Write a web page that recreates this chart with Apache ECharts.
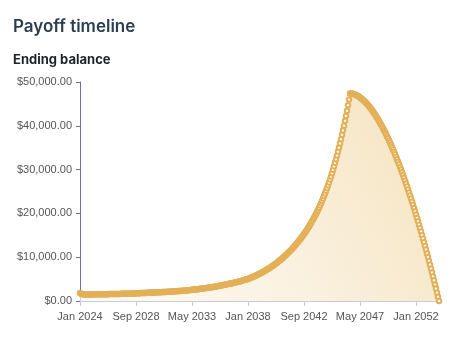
<!DOCTYPE html>
<html>
<head>
<meta charset="utf-8">
<title>Payoff timeline</title>
<script src="https://cdn.jsdelivr.net/npm/echarts@6/dist/echarts.min.js"></script>
<style>
  html, body { margin: 0; padding: 0; background: #fff; }
  #chart { width: 474px; height: 337px; }
</style>
</head>
<body>
<div id="chart"></div>
<script>
// Monthly schedule: Jan 2024 – Dec 2053
const monthNames = ['Jan','Feb','Mar','Apr','May','Jun','Jul','Aug','Sep','Oct','Nov','Dec'];
const startYear = 2024;
const endYear = 2053;

// Ending balance for each month, one row per year
const balance = [
  1800, 1640, 1560, 1520, 1500, 1495, 1495, 1495, 1500, 1500, 1505, 1505,          // 2024
  1510, 1510, 1515, 1515, 1520, 1520, 1525, 1530, 1530, 1535, 1540, 1540,          // 2025
  1545, 1550, 1555, 1560, 1565, 1570, 1575, 1580, 1585, 1590, 1595, 1600,          // 2026
  1605, 1610, 1615, 1620, 1625, 1630, 1635, 1640, 1645, 1650, 1660, 1665,          // 2027
  1670, 1680, 1690, 1700, 1710, 1720, 1730, 1740, 1750, 1760, 1770, 1780,          // 2028
  1790, 1800, 1810, 1820, 1830, 1840, 1850, 1860, 1870, 1885, 1900, 1915,          // 2029
  1930, 1940, 1950, 1960, 1970, 1980, 1990, 2000, 2010, 2020, 2030, 2040,          // 2030
  2050, 2065, 2080, 2095, 2110, 2125, 2140, 2155, 2170, 2185, 2200, 2215,          // 2031
  2230, 2245, 2260, 2275, 2290, 2305, 2320, 2340, 2360, 2380, 2400, 2420,          // 2032
  2450, 2475, 2500, 2525, 2550, 2575, 2600, 2625, 2650, 2680, 2710, 2740,          // 2033
  2770, 2800, 2830, 2860, 2890, 2920, 2950, 2985, 3020, 3055, 3090, 3125,          // 2034
  3160, 3200, 3240, 3280, 3320, 3360, 3400, 3445, 3490, 3535, 3580, 3630,          // 2035
  3675, 3720, 3770, 3820, 3870, 3920, 3970, 4020, 4075, 4130, 4185, 4240,          // 2036
  4300, 4355, 4410, 4470, 4530, 4590, 4650, 4715, 4780, 4845, 4910, 4980,          // 2037
  5050, 5140, 5230, 5320, 5420, 5520, 5620, 5720, 5830, 5940, 6050, 6160,          // 2038
  6280, 6400, 6520, 6640, 6770, 6900, 7030, 7170, 7310, 7450, 7600, 7750,          // 2039
  7910, 8070, 8240, 8410, 8580, 8760, 8940, 9120, 9310, 9500, 9700, 9900,          // 2040
  10100, 10310, 10520, 10740, 10960, 11190, 11420, 11660, 11900, 12150, 12400, 12660, // 2041
  12930, 13200, 13480, 13760, 14050, 14350, 14650, 14960, 15280, 15600, 15940, 16280, // 2042
  16640, 17010, 17390, 17780, 18180, 18590, 19010, 19440, 19880, 20330, 20800, 21280, // 2043
  21790, 22310, 22850, 23400, 23970, 24550, 25150, 25770, 26400, 27050, 27730, 28430, // 2044
  29180, 29950, 30740, 31550, 32380, 33240, 34120, 35030, 35970, 36940, 37940, 38970, // 2045
  40030, 41130, 42260, 43420, 44700, 46000, 47400, 47390, 47350, 47290, 47220, 47130, // 2046
  47030, 46910, 46780, 46630, 46470, 46300, 46110, 45910, 45700, 45480, 45240, 44990, // 2047
  44730, 44460, 44170, 43880, 43570, 43250, 42920, 42580, 42230, 41860, 41490, 41100, // 2048
  40710, 40300, 39880, 39450, 39010, 38570, 38110, 37640, 37150, 36660, 36160, 35650, // 2049
  35130, 34600, 34060, 33510, 32950, 32380, 31800, 31210, 30610, 30000, 29380, 28750, // 2050
  28120, 27470, 26810, 26140, 25470, 24790, 24090, 23380, 22670, 21950, 21220, 20480, // 2051
  19720, 18970, 18200, 17420, 16630, 15840, 15030, 14220, 13390, 12570, 11730, 10870, // 2052
  10020, 9150, 8280, 7390, 6500, 5600, 4680, 3760, 2840, 1900, 950, 0                 // 2053
];

// Month labels such as "Jan 2024"
const months = [];
for (let y = startYear; y <= endYear; y++) {
  for (const m of monthNames) months.push(m + ' ' + y);
}

// Value axis ticks
const yMin = 0;
const yMax = 50000;
const yStep = 10000;

function money(v) {
  return '$' + v.toFixed(2).replace(/\B(?=(\d{3})+(?!\d))/g, ',');
}

const gold = '#e3b058';
const labelFont = '"Liberation Sans", Arial, Helvetica, sans-serif';

const chart = echarts.init(document.getElementById('chart'), null, { renderer: 'canvas' });
chart.setOption({
  animation: false,
  backgroundColor: '#fff',
  title: [
    {
      text: 'Payoff timeline',
      left: 13,
      top: 18,
      padding: 0,
      textStyle: { fontFamily: 'Inter, "Noto Sans", sans-serif', fontSize: 17, fontWeight: 600, color: '#2c3e50' }
    },
    {
      text: 'Ending balance',
      left: 13,
      top: 54,
      padding: 0,
      textStyle: { fontFamily: 'Inter, "Noto Sans", sans-serif', fontSize: 13, fontWeight: 700, color: '#1f2328' }
    }
  ],
  grid: { left: 80, right: 35, top: 82, bottom: 36, containLabel: false },
  xAxis: {
    type: 'category',
    data: months,
    boundaryGap: false,
    axisLine: { show: true, lineStyle: { color: '#c9cbdc', width: 1 } },
    axisTick: { show: true, interval: 55, length: 5, lineStyle: { color: '#c9cbdc' } },
    axisLabel: { interval: 55, color: '#555', fontSize: 11, fontFamily: labelFont, margin: 10 },
    splitLine: { show: false }
  },
  yAxis: {
    type: 'value',
    min: yMin,
    max: yMax,
    interval: yStep,
    axisLine: { show: true, lineStyle: { color: '#6f71a0', width: 1 } },
    axisTick: { show: true, length: 4, lineStyle: { color: '#6f71a0' } },
    axisLabel: { color: '#555', fontSize: 11, fontFamily: labelFont, margin: 8, formatter: money },
    splitLine: { show: false }
  },
  series: [{
    type: 'line',
    data: balance,
    symbol: 'emptyCircle',
    symbolSize: 4.5,
    showAllSymbol: true,
    lineStyle: { color: gold, width: 1.5 },
    itemStyle: { color: gold, borderColor: gold, borderWidth: 1.2 },
    areaStyle: {
      color: new echarts.graphic.LinearGradient(0, 1, 1, 0, [
        { offset: 0, color: '#fefaf3' },
        { offset: 0.5, color: '#f8ead0' },
        { offset: 1, color: '#f0d7a2' }
      ])
    }
  }]
});
</script>
</body>
</html>
